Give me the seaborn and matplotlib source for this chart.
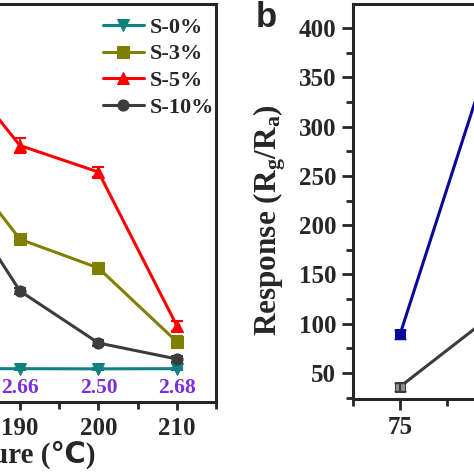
import numpy as np
import pandas as pd
import matplotlib
matplotlib.use('Agg')
import matplotlib.pyplot as plt
import seaborn as sns
from matplotlib.ticker import MultipleLocator

# panel a: response vs operating temperature
temps = [180, 190, 200, 210]
s0 = [2.70, 2.66, 2.50, 2.68]
s3 = [264, 149, 116.5, 33]
s5 = [366, 255, 225, 51]
s10 = [228, 90.5, 31.7, 13.6]
err_s0 = [1, 1, 1, 1]
err_s3 = [5, 5, 6, 7]
err_s5 = [6, 8, 6, 6]
err_s10 = [3, 3, 3, 3]
s0_labels = ['2.66', '2.50', '2.68']

# panel b
conc = [75, 100]
blue = [89, 385]
gray = [36, 110]
err_blue = [5, 5]
err_gray = [4, 4]

sns.set_theme(style='ticks')
plt.rcParams['font.family'] = ['Liberation Serif', 'DejaVu Sans']
plt.rcParams['font.weight'] = 'bold'
plt.rcParams['mathtext.default'] = 'regular'
plt.rcParams['axes.linewidth'] = 2.2
plt.rcParams['xtick.major.width'] = 2
plt.rcParams['ytick.major.width'] = 2
plt.rcParams['xtick.minor.width'] = 2
plt.rcParams['ytick.minor.width'] = 2

fig = plt.figure(figsize=(4.74, 4.74), dpi=100)
W = 474.0
ax1 = fig.add_axes([-97.8 / W, 72 / W, 314 / W, 398 / W])
ax2 = fig.add_axes([353 / W, 75 / W, 376 / W, 395 / W])

series = [
    ('S-0%', s0, err_s0, '#138080', 'v'),
    ('S-3%', s3, err_s3, '#808000', 's'),
    ('S-5%', s5, err_s5, '#ff0000', '^'),
    ('S-10%', s10, err_s10, '#3c3c3c', 'o'),
]
for name, vals, err, col, mk in series:
    df = pd.DataFrame({'T': temps, 'R': vals})
    sns.lineplot(data=df, x='T', y='R', ax=ax1, color=col, marker=mk,
                 markersize=8, markeredgecolor=col, linewidth=2.2, label=name)
    ax1.errorbar(temps, vals, yerr=err, fmt='none', ecolor=col, capsize=4,
                 elinewidth=1.5, capthick=1.5)

for t, v, lab in zip(temps[1:], s0[1:], s0_labels):
    ax1.text(t, v - 10, lab, color='#7a2ee0', fontsize=15.5, fontweight='bold',
             ha='center', va='top')

ax1.set_xlim(175, 215)
ax1.set_ylim(-35, 415)
ax1.set_xticks([190, 200, 210])
ax1.xaxis.set_minor_locator(MultipleLocator(5))
ax1.set_yticks([])
ax1.set_xlabel('')
ax1.set_ylabel('')
ax1.tick_params(axis='x', which='major', length=6, labelsize=18, pad=5)
ax1.tick_params(axis='x', which='minor', length=5)
for s in ax1.spines.values():
    s.set_visible(True)
leg = ax1.legend(loc='upper right', bbox_to_anchor=(1.0, 0.972), frameon=False,
                 fontsize=16, handlelength=1.85, labelspacing=0.27,
                 handletextpad=0.25, borderaxespad=0.0, borderpad=0.1)

df_b = pd.DataFrame({'c': conc, 'blue': blue, 'gray': gray})
sns.lineplot(data=df_b, x='c', y='blue', ax=ax2, color='#0a0a9a', marker='s',
             markersize=7, markeredgecolor='#0a0a9a', linewidth=2.2)
ax2.errorbar(conc, blue, yerr=err_blue, fmt='none', ecolor='#0a0a9a',
             capsize=4, elinewidth=1.5)
sns.lineplot(data=df_b, x='c', y='gray', ax=ax2, color='#3c3c3c', marker='s',
             markersize=7, markerfacecolor='#909090', markeredgecolor='#3c3c3c',
             linewidth=2.2)
ax2.errorbar(conc, gray, yerr=err_gray, fmt='none', ecolor='#3c3c3c',
             capsize=4, elinewidth=1.5)

ax2.set_xlim(62.5, 162.5)
ax2.set_ylim(23.5, 424.5)
ax2.set_xticks([75])
ax2.xaxis.set_minor_locator(MultipleLocator(12.5))
ax2.set_yticks([50, 100, 150, 200, 250, 300, 350, 400])
ax2.yaxis.set_minor_locator(MultipleLocator(25))
ax2.tick_params(axis='both', which='major', length=8, labelsize=18, pad=4)
ax2.tick_params(axis='both', which='minor', length=5)
ax2.set_xlabel('')
ax2.set_ylabel(r'Response (R$_\mathregular{g}$/R$_\mathregular{a}$)',
               fontsize=22.5, fontweight='bold')
ax2.yaxis.set_label_coords(-0.173, 0.454)

fig.text(95 / W, 1 - 455 / W, 'Temperature (℃)', ha='right', va='center',
         fontsize=21, fontweight='bold')
fig.text(266 / W, 1 - 27 / W, 'b', ha='center', va='baseline', fontsize=25,
         fontweight='bold', family='Liberation Sans')

fig.savefig('out.png', dpi=100)
